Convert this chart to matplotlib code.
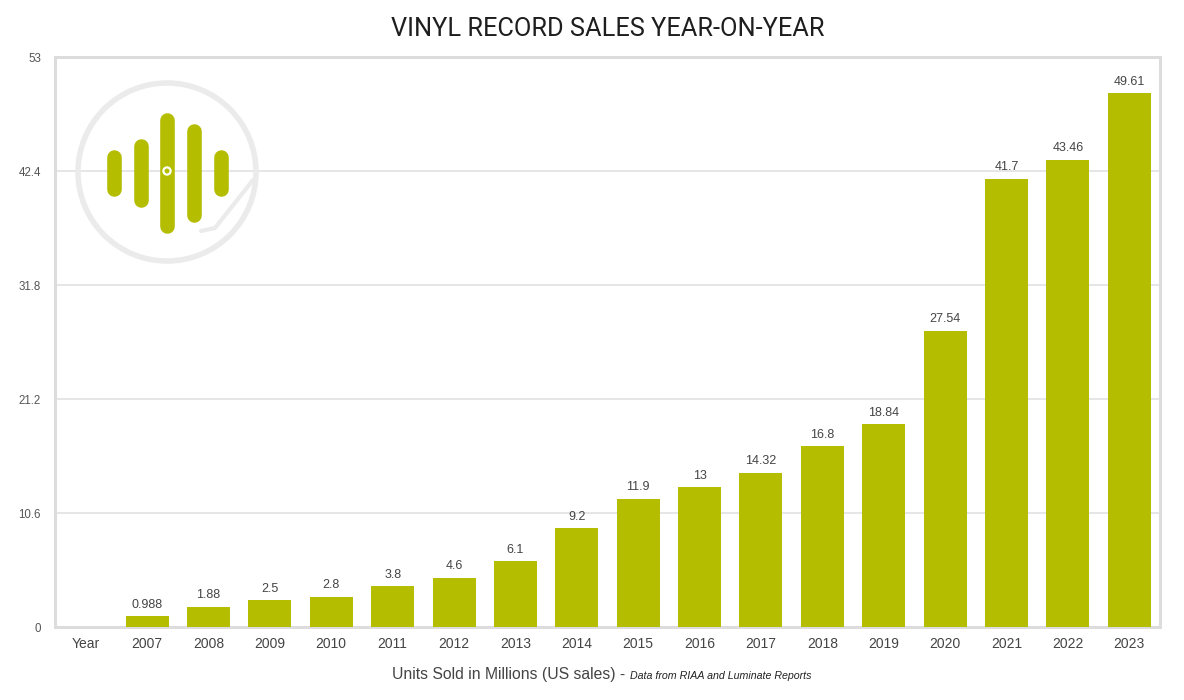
import matplotlib.pyplot as plt
from matplotlib.patches import Circle

plt.rcParams['font.family'] = ['Liberation Sans', 'DejaVu Sans']

# data
categories = ["Year", "2007", "2008", "2009", "2010", "2011", "2012", "2013", "2014",
              "2015", "2016", "2017", "2018", "2019", "2020", "2021", "2022", "2023"]
sales = [0, 0.988, 1.88, 2.5, 2.8, 3.8, 4.6, 6.1, 9.2,
         11.9, 13, 14.32, 16.8, 18.84, 27.54, 41.7, 43.46, 49.61]
value_labels = ["", "0.988", "1.88", "2.5", "2.8", "3.8", "4.6", "6.1", "9.2",
                "11.9", "13", "14.32", "16.8", "18.84", "27.54", "41.7", "43.46", "49.61"]
y_ticks = [0, 10.6, 21.2, 31.8, 42.4, 53]

GREEN = "#b5bd00"
GRID = "#e2e2e2"
FRAME = "#dcdcdc"

fig = plt.figure(figsize=(11.84, 7.0), dpi=100)
ax = fig.add_axes([55/1184, 73/700, 1105/1184, 570/700])

x = list(range(len(categories)))
ax.bar(x, sales, width=0.7, color=GREEN, zorder=3)
for xi, v, lab in zip(x, sales, value_labels):
    if lab:
        ax.annotate(lab, (xi, v), xytext=(0, 4), textcoords="offset points",
                    ha="center", va="bottom", fontsize=9, color="#444444")

ax.set_xlim(-0.5, len(categories) - 0.5)
ax.set_ylim(0, 53)
ax.set_yticks(y_ticks)
ax.set_yticklabels(["0", "10.6", "21.2", "31.8", "42.4", "53"])
ax.set_xticks(x)
ax.set_xticklabels(categories)
ax.tick_params(axis="y", length=0, pad=10, labelsize=8.3, labelcolor="#555555")
ax.tick_params(axis="x", length=0, pad=7, labelsize=10, labelcolor="#444444")
ax.yaxis.grid(True, color=GRID, linewidth=1.2, zorder=0)
ax.set_axisbelow(True)
for s in ax.spines.values():
    s.set_color(FRAME)
    s.set_linewidth(2.2)

fig.text(0.513, 0.958, "VINYL RECORD SALES YEAR-ON-YEAR", ha="center", va="center",
         fontsize=18.3, color="#1e1e1e", family=["Roboto", "Liberation Sans"])
fig.text(0.532, 0.036, "Units Sold in Millions (US sales) - ", ha="right", va="center",
         fontsize=11.3, color="#444444")
fig.text(0.532, 0.034, "Data from RIAA and Luminate Reports", ha="left", va="center",
         fontsize=7.7, style="italic", color="#222222")

# logo overlay in pixel coordinates
lax = fig.add_axes([0, 0, 1, 1], zorder=5)
lax.set_xlim(0, 1184)
lax.set_ylim(700, 0)
lax.axis("off")
lax.patch.set_alpha(0)
lax.add_patch(Circle((167, 172), 89, fill=False, edgecolor="#ebebeb", linewidth=4))
lax.plot([253, 215, 201], [180, 228, 231], color="#ebebeb", linewidth=3,
         solid_capstyle="round")
logo_x = [114, 141, 167, 194, 221]
logo_top = [150, 139, 113, 124, 150]
logo_bot = [196, 207, 233, 222, 196]
cap = 7
for lx, t, b in zip(logo_x, logo_top, logo_bot):
    lax.plot([lx, lx], [t + cap, b - cap], color=GREEN, linewidth=10.5,
             solid_capstyle="round")
lax.add_patch(Circle((167, 171), 3.6, facecolor=GREEN, edgecolor="white", linewidth=1.6,
                     zorder=6))

fig.savefig("out.png", dpi=100, facecolor="white")
